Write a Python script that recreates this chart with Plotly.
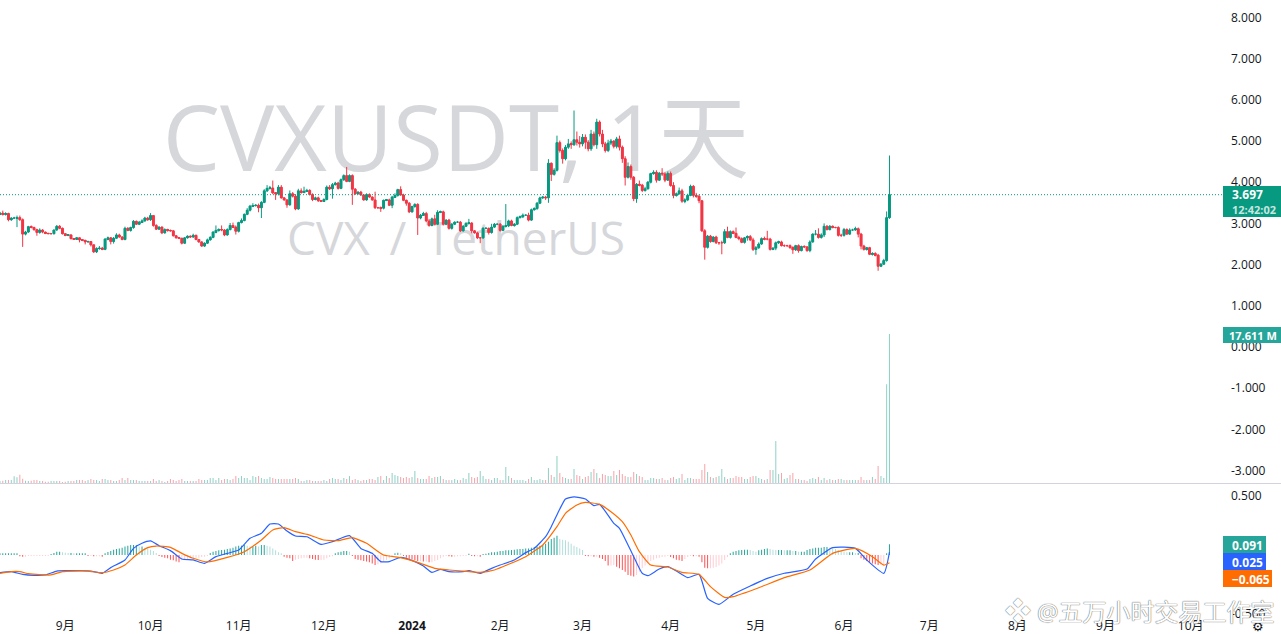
import pandas as pd
import plotly.graph_objects as go

W, H = 1281, 634
PLOT_W, PLOT_H = 1222, 617

first_day = "2023-08-09"

closes = [
    3.25,3.22,3.24,3.09,3.13,3.13,3.14,3.09,2.74,2.79,
    2.92,2.90,2.85,2.78,2.84,2.79,2.76,2.75,2.75,2.84,
    2.93,2.88,2.75,2.71,2.72,2.63,2.62,2.65,2.60,2.59,
    2.55,2.56,2.48,2.31,2.39,2.40,2.37,2.62,2.65,2.56,
    2.64,2.72,2.67,2.61,2.88,2.83,2.90,3.05,2.98,3.03,
    3.06,3.13,3.09,3.19,2.95,2.86,2.91,2.77,2.85,2.83,
    2.82,2.70,2.65,2.64,2.52,2.65,2.69,2.67,2.71,2.61,
    2.55,2.45,2.52,2.60,2.66,2.79,2.83,2.85,2.84,2.72,
    2.85,2.95,2.91,2.81,3.02,3.07,3.22,3.32,3.42,3.43,
    3.44,3.38,3.51,3.79,3.85,3.86,3.74,3.72,3.88,3.62,
    3.57,3.45,3.72,3.66,3.35,3.79,3.75,3.78,3.80,3.70,
    3.58,3.62,3.55,3.54,3.58,3.88,3.84,3.94,3.98,3.85,
    4.06,4.16,4.02,4.16,3.83,3.72,3.76,3.69,3.57,3.70,
    3.64,3.57,3.38,3.38,3.37,3.56,3.57,3.44,3.64,3.68,
    3.82,3.69,3.56,3.49,3.28,3.41,3.46,3.13,3.20,3.24,
    3.06,2.95,3.11,2.98,3.27,3.28,2.98,3.08,2.88,2.98,
    3.03,3.03,2.82,2.93,3.00,3.01,2.82,2.77,2.65,2.65,
    2.88,2.88,2.78,2.91,2.98,2.98,2.83,2.93,2.94,3.06,
    2.95,2.98,3.14,3.16,3.20,3.20,3.08,3.33,3.36,3.49,
    3.62,3.64,3.62,4.46,4.19,4.29,4.96,4.77,4.57,4.85,
    4.93,4.91,5.03,4.97,4.93,5.09,4.97,4.81,5.17,4.91,
    5.46,5.17,4.93,4.77,4.95,5.00,4.87,5.05,4.85,4.57,
    4.12,4.38,4.12,3.60,3.95,3.93,3.80,3.84,4.00,4.21,
    4.24,4.05,4.22,4.20,4.05,4.21,3.92,3.68,3.72,3.79,
    3.54,3.57,3.68,3.90,3.68,3.66,3.55,2.82,2.42,2.69,
    2.56,2.67,2.53,2.53,2.53,2.80,2.66,2.80,2.76,2.66,
    2.63,2.54,2.65,2.68,2.60,2.37,2.41,2.50,2.63,2.62,
    2.62,2.37,2.40,2.53,2.55,2.46,2.46,2.46,2.42,2.36,
    2.46,2.34,2.44,2.43,2.34,2.55,2.74,2.74,2.66,2.72,
    2.93,2.85,2.93,2.90,2.90,2.71,2.71,2.85,2.74,2.84,
    2.84,2.87,2.74,2.45,2.37,2.41,2.25,2.27,2.23,1.96,
    2.01,2.10,3.14,3.697,
]
first_open = 3.22

upper_wicks = [
    .03,.06,.03,.02,.02,.03,.05,.05,.03,.03,
    .02,.03,.02,.02,.04,.02,.01,.01,.01,.01,
    .03,.03,.02,.01,.01,.02,.01,.02,.01,.02,
    .01,.02,.01,.01,.03,.05,.03,.02,.03,.02,
    .03,.04,.03,.02,.04,.03,.02,.03,.02,.03,
    .04,.03,.03,.06,.01,.03,.02,.02,.03,.02,
    .02,.02,.01,.02,.01,.02,.02,.02,.04,.02,
    .01,.02,.02,.03,.03,.02,.12,.03,.10,.02,
    .03,.06,.07,.04,.02,.05,.02,.05,.03,.06,
    .03,.04,.03,.04,.08,.05,.18,.02,.05,.05,
    .02,.02,.08,.04,.05,.05,.06,.11,.04,.03,
    .03,.03,.03,.02,.03,.04,.05,.04,.03,.03,
    .03,.03,.21,.03,.03,.03,.02,.03,.02,.03,
    .03,.02,.20,.02,.03,.02,.02,.03,.03,.05,
    .02,.08,.03,.02,.03,.02,.03,.03,.03,.04,
    .04,.05,.03,.10,.05,.03,.03,.02,.03,.03,
    .02,.03,.03,.03,.03,.10,.02,.02,.03,.02,
    .03,.03,.02,.08,.03,.02,.03,.03,.53,.03,
    .03,.03,.03,.03,.04,.02,.06,.03,.03,.03,
    .03,.02,.03,.10,.02,.05,.17,.05,.05,.05,
    .12,.06,.71,.20,.15,.08,.07,.05,.10,.06,
    .08,.04,.10,.05,.08,.05,.02,.05,.08,.04,
    .06,.10,.05,.03,.03,.09,.03,.05,.03,.02,
    .05,.05,.03,.12,.04,.05,.05,.08,.03,.08,
    .05,.04,.04,.04,.03,.06,.04,.02,.04,.03,
    .03,.02,.03,.02,.05,.06,.12,.03,.03,.14,
    .04,.03,.02,.03,.04,.05,.04,.04,.03,.05,
    .20,.03,.02,.03,.03,.03,.03,.02,.03,.02,
    .02,.03,.02,.03,.02,.04,.02,.10,.14,.04,
    .07,.03,.03,.02,.02,.03,.04,.04,.03,.04,
    .03,.05,.03,.03,.03,.02,.02,.03,.03,.03,
    .03,.04,.15,.95,
]
lower_wicks = [
    .02,.03,.03,.04,.03,.02,.22,.03,.31,.03,
    .02,.02,.03,.08,.03,.03,.02,.01,.01,.02,
    .02,.02,.02,.02,.02,.02,.02,.02,.06,.02,
    .06,.02,.04,.03,.03,.03,.02,.02,.03,.07,
    .05,.02,.02,.02,.02,.02,.03,.03,.02,.02,
    .02,.02,.03,.03,.03,.02,.02,.03,.02,.03,
    .02,.02,.02,.02,.03,.02,.02,.02,.02,.02,
    .02,.02,.02,.02,.02,.02,.03,.03,.03,.03,
    .02,.02,.02,.08,.03,.02,.02,.02,.03,.02,
    .02,.11,.25,.02,.03,.03,.03,.15,.04,.02,
    .02,.07,.02,.03,.03,.02,.03,.02,.02,.02,
    .04,.02,.03,.02,.02,.02,.03,.24,.02,.03,
    .02,.03,.02,.02,.38,.03,.02,.02,.02,.02,
    .02,.02,.03,.02,.09,.03,.02,.02,.07,.02,
    .03,.02,.02,.06,.03,.02,.03,.41,.03,.02,
    .03,.03,.02,.03,.02,.02,.03,.02,.03,.03,
    .02,.02,.03,.02,.02,.03,.06,.02,.03,.13,
    .03,.02,.05,.03,.02,.02,.03,.02,.03,.03,
    .02,.03,.02,.02,.03,.02,.03,.02,.02,.03,
    .02,.03,.05,.12,.16,.03,.03,.05,.12,.04,
    .04,.10,.03,.08,.09,.06,.16,.06,.05,.04,
    .10,.06,.08,.05,.04,.05,.05,.05,.08,.10,
    .20,.03,.06,.06,.10,.03,.04,.03,.02,.03,
    .03,.06,.02,.05,.05,.02,.03,.07,.03,.02,
    .04,.05,.03,.02,.05,.04,.06,.03,.30,.03,
    .03,.02,.03,.05,.28,.03,.02,.03,.02,.02,
    .04,.02,.03,.07,.03,.04,.13,.03,.02,.03,
    .03,.03,.02,.05,.03,.02,.03,.03,.04,.10,
    .03,.05,.02,.03,.03,.04,.02,.03,.03,.03,
    .05,.02,.02,.02,.02,.03,.04,.03,.02,.02,
    .02,.02,.08,.08,.03,.03,.02,.03,.03,.11,
    .02,.02,.03,.03,
]

# volume, millions
volumes = [
    .24,.28,.35,.35,.35,.79,.67,.98,.51,.28,
    .24,.28,.35,.35,.24,.24,.16,.16,.24,.24,
    .24,.24,.12,.16,.24,.24,.24,.35,.35,.35,
    .24,.35,.47,.35,.35,.24,.47,.47,.35,.35,
    .24,.24,.35,.59,.35,.59,.35,.35,.35,.24,
    .24,.24,.24,.24,.47,.24,.35,.24,.12,.24,
    .47,.35,.24,.35,.47,.24,.24,.24,.24,.24,
    .47,.35,.35,.35,.59,.59,.35,.59,.35,.47,
    .47,.35,.47,.82,.59,.82,.59,.59,.35,.82,
    .71,.82,.59,.47,.47,.71,.59,.47,.47,.47,
    .47,.47,.47,.47,.59,.47,.24,.24,.35,.35,
    .24,.24,.24,.24,.35,.24,.47,.59,.47,.47,
    .35,.59,.47,.82,.35,.47,.35,.24,.35,.35,
    .47,.47,.35,.71,.82,.35,.82,.59,1.18,.94,
    .82,.71,.59,.71,.59,.71,1.41,.59,.47,.47,
    .47,.82,.59,.71,.71,.82,.47,.35,.35,
    .35,.47,.35,.35,.59,.47,1.18,.71,.59,.71,
    1.41,.82,.47,.47,.35,.59,.59,.35,.35,1.89,
    .82,.59,.35,.35,.35,.35,.24,.47,.71,.35,
    .35,.47,.35,.35,1.77,.94,.71,3.18,1.18,.71,
    .59,.47,.47,1.65,.94,.82,.47,.71,.82,1.30,
    1.65,1.18,.59,1.06,.94,.82,.82,1.41,.94,1.53,
    1.06,.82,.71,.71,1.30,1.06,.82,.71,.35,.35,
    .59,.59,.47,.47,.59,.35,.35,.59,.71,.47,
    .59,1.06,.35,.59,.59,.47,.47,.47,1.53,2.24,
    1.30,.71,.59,.71,.82,1.65,.71,.47,.59,.59,
    .82,.71,.71,.47,.47,.71,.82,.82,.59,.47,
    .35,.47,1.53,1.53,4.95,1.06,1.18,.47,.59,.94,
    1.18,.47,.47,.35,.35,.24,.47,.59,.47,.71,
    .35,.59,.35,.47,.35,.35,.47,.47,.35,.35,
    .35,.35,.35,.35,.71,.35,.35,.35,.71,.47,
    2.00,.82,.59,11.67,17.611,
]

# histogram, thousandths
hist_milli = [
    14,14,14,14,14,14,14,-11,-14,-14,
    -8,-8,-8,-8,-8,-8,-8,-8,8,17,
    28,28,23,20,17,17,14,14,14,14,
    14,-8,-8,-11,-11,-11,-14,14,25,34,
    45,51,56,62,71,79,85,85,85,71,
    71,62,56,45,34,17,-8,-17,-23,-28,
    -40,-45,-56,-62,-45,-40,-34,-28,-25,-23,
    -23,-17,-14,-8,17,28,34,40,42,45,
    51,56,62,71,79,79,85,79,73,73,
    79,73,85,85,79,71,56,40,23,14,
    -14,-23,-28,-51,-40,-34,-28,-23,-23,-28,
    -34,-40,-42,-42,-40,-28,-17,-11,14,23,
    28,34,34,28,-8,-34,-40,-45,-51,-56,
    -62,-73,-85,-79,-71,-56,-42,-28,-14,14,
    20,14,-8,-23,-34,-40,-45,-51,-51,-56,
    -56,-62,-62,-51,-42,-28,-14,-8,-11,
    -14,-14,-11,-11,-8,-8,11,-8,-11,-11,
    -14,8,11,17,23,23,28,34,34,40,
    40,42,45,48,51,51,56,56,62,68,
    73,79,85,96,113,136,147,164,136,130,
    124,113,96,79,68,56,42,-8,-11,-11,
    -14,-14,-23,-34,-51,-90,-90,-85,-99,-113,
    -127,-141,-169,-175,-183,-169,-141,-113,-90,-71,
    -51,-40,-28,-23,-17,-14,-8,-17,-28,-40,
    -45,-51,-34,-17,-8,-11,-11,-14,-62,-107,
    -113,-113,-107,-102,-90,-71,-42,-17,14,28,
    34,40,42,45,45,42,34,28,40,45,
    51,56,51,45,42,42,42,40,40,40,
    34,34,28,28,28,42,51,56,62,62,
    62,68,68,62,56,51,42,34,28,23,
    23,23,17,17,-28,-40,-51,-62,-73,-79,
    -85,-85,-79,14,91,
]

macd_idx = [
    0,4,8,12,16,20,24,28,32,36,39,44,47,50,53,56,60,64,68,72,76,80,84,88,92,95,98,
    101,104,108,113,117,123,127,131,134,137,141,146,149,152,155,158,163,165,169,173,
    176,181,185,188,192,194,197,199,202,206,209,211,216,218,221,223,226,228,232,235,
    238,242,246,249,253,258,264,270,276,284,287,293,301,305,311,313,
]
macd_vals = [
    -.150,-.141,-.164,-.172,-.169,-.136,-.133,-.133,-.136,-.155,-.107,-.042,.056,.099,.119,.079,
    .037,-.034,-.042,-.071,-.014,.014,.042,.141,.184,.263,.263,.203,.161,.155,.090,.113,.164,
    .056,.014,-.056,-.056,-.020,-.056,-.093,-.147,-.122,-.141,-.141,-.133,-.155,-.113,-.085,
    -.042,.020,.056,.155,.240,.390,.475,.492,.475,.418,.429,.268,.226,.085,-.014,-.155,-.175,
    -.119,-.099,-.136,-.192,-.164,-.367,-.418,-.333,-.263,-.198,-.155,-.119,-.034,.062,.056,
    -.042,-.155,.025,
]
signal_idx = [
    0,4,7,10,14,18,22,26,31,36,40,44,48,52,55,60,64,68,73,80,86,92,96,100,104,109,114,119,
    124,129,135,141,147,153,158,163,169,174,179,185,191,196,199,203,206,211,215,219,222,225,
    229,235,240,246,250,255,258,267,276,285,293,301,307,311,313,
]
signal_vals = [
    -.155,-.141,-.141,-.158,-.167,-.169,-.141,-.136,-.136,-.150,-.127,-.085,0,.062,.076,.065,
    .014,-.028,-.059,-.020,.028,.127,.212,.232,.198,.169,.127,.121,.147,.099,0,-.023,-.062,
    -.113,-.127,-.136,-.147,-.127,-.079,-.014,.085,.240,.353,.424,.446,.429,.367,.282,.169,
    .028,-.085,-.102,-.147,-.164,-.268,-.359,-.353,-.277,-.192,-.127,.014,.056,-.014,-.085,
    -.065,
]

price_ticks = [8, 7, 6, 5, 4, 3, 2, 1, 0, -1, -2, -3]
price_labels = ["8.000","7.000","6.000","5.000","4.000","3.000","2.000","1.000","0.000","-1.000","-2.000","-3.000"]
month_dates = ["2023-09-01","2023-10-01","2023-11-01","2023-12-01","2024-01-01","2024-02-01","2024-03-01",
               "2024-04-01","2024-05-01","2024-06-01","2024-07-01","2024-08-01","2024-09-01","2024-10-01"]
month_labels = ["9月","10月","11月","12月","<b>2024</b>","2月","3月","4月","5月","6月","7月","8月","9月","10月"]

last_price = 3.697
TEXT = "#131722"
UP, DOWN = "#089981", "#F23645"
FONT = "Open Sans, Noto Sans CJK SC, sans-serif"

dates = pd.date_range(first_day, periods=len(closes), freq="D")
opens = [first_open] + closes[:-1]
highs = [max(o, c) + u for o, c, u in zip(opens, closes, upper_wicks)]
lows = [min(o, c) - l for o, c, l in zip(opens, closes, lower_wicks)]
up_day = [c >= o for o, c in zip(opens, closes)]
hist = [v / 1000 for v in hist_milli]

hist_colors = []
for i, v in enumerate(hist):
    prev = hist[i - 1] if i else 0
    if v >= 0:
        hist_colors.append("rgba(38,166,154,0.99)" if v >= prev else "rgba(178,223,219,0.99)")
    else:
        hist_colors.append("rgba(255,205,210,0.99)" if v >= prev else "rgba(255,82,82,0.99)")

def px(x):
    return x / PLOT_W

def py(y):
    return 1 - y / PLOT_H

day_ms = 86400000
pane_split = (PLOT_H - 483) / PLOT_H
macd_top = (PLOT_H - 484) / PLOT_H

fig = go.Figure()
fig.add_bar(x=dates, y=volumes, yaxis="y", xaxis="x", width=0.36 * day_ms,
            marker=dict(color=["rgba(8,153,129,0.45)" if u else "rgba(242,54,69,0.45)" for u in up_day], line_width=0),
            hoverinfo="skip")
# candle bodies, slightly wider than the candlestick trace draws them
fig.add_bar(x=dates, y=[abs(c - o) for o, c in zip(opens, closes)], base=[min(o, c) for o, c in zip(opens, closes)],
            yaxis="y2", xaxis="x", width=0.85 * day_ms,
            marker=dict(color=[UP if u else DOWN for u in up_day], line_width=0), hoverinfo="skip")
fig.add_candlestick(x=dates, open=opens, high=highs, low=lows, close=closes, yaxis="y2", xaxis="x",
                    increasing=dict(line=dict(color=UP, width=1), fillcolor=UP),
                    decreasing=dict(line=dict(color=DOWN, width=1), fillcolor=DOWN),
                    hoverinfo="skip")
fig.add_bar(x=dates, y=hist, yaxis="y3", xaxis="x", width=0.36 * day_ms,
            marker=dict(color=hist_colors, line_width=0), hoverinfo="skip")
fig.add_scatter(x=[dates[i] for i in macd_idx], y=macd_vals, yaxis="y3", xaxis="x", mode="lines",
                line=dict(color="#2962ff", width=1.2, shape="spline", smoothing=0.5), hoverinfo="skip")
fig.add_scatter(x=[dates[i] for i in signal_idx], y=signal_vals, yaxis="y3", xaxis="x", mode="lines",
                line=dict(color="#ff6d00", width=1.2, shape="spline", smoothing=0.5), hoverinfo="skip")

sep1 = pd.Timestamp("2023-09-01")
x_start = sep1 - pd.Timedelta(days=65.3 / 2.842)
x_end = sep1 + pd.Timedelta(days=(PLOT_W - 65.3) / 2.842)

shapes = [
    # watermarks behind the candles
    dict(type="rect", xref="paper", yref="paper", layer="below", x0=px(96), x1=px(816), y0=py(192), y1=py(92),
         line_width=0, fillcolor="rgba(0,0,0,0)",
         label=dict(text="CVXUSDT, 1天", textposition="middle center",
                    font=dict(size=91, color="#d6d7db", family=FONT))),
    dict(type="rect", xref="paper", yref="paper", layer="below", x0=px(200), x1=px(712), y0=py(270), y1=py(210),
         line_width=0, fillcolor="rgba(0,0,0,0)",
         label=dict(text="CVX\u2009 / \u2009TetherUS", textposition="middle center",
                    font=dict(size=46, color="#d6d7db", family=FONT))),
    # last price line
    dict(type="line", xref="paper", yref="y2", x0=0, x1=1, y0=last_price, y1=last_price,
         line=dict(color=UP, width=1, dash="1px,2px")),
    # pane separator
    dict(type="line", xref="paper", yref="paper", x0=0, x1=W / PLOT_W, y0=py(483.5), y1=py(483.5),
         line=dict(color="#d1d4dc", width=1)),
    # price scale labels
    dict(type="rect", xref="paper", yref="paper", x0=px(1223), x1=px(1281), y0=py(217), y1=py(186), line_width=0, fillcolor=UP),
    dict(type="rect", xref="paper", yref="paper", x0=px(1223), x1=px(1281), y0=py(343), y1=py(327), line_width=0, fillcolor="#26a69a"),
    dict(type="rect", xref="paper", yref="paper", x0=px(1223), x1=px(1266), y0=py(553), y1=py(536), line_width=0, fillcolor="#26a69a"),
    dict(type="rect", xref="paper", yref="paper", x0=px(1223), x1=px(1266), y0=py(570), y1=py(553), line_width=0, fillcolor="#2962ff"),
    dict(type="rect", xref="paper", yref="paper", x0=px(1223), x1=px(1272), y0=py(587), y1=py(570), line_width=0, fillcolor="#ff6d00"),
]

def label(text, x, y, color="white", size=12, anchor="left", shadow=None):
    font = dict(size=size, color=color, family=FONT)
    if shadow:
        font["shadow"] = shadow
    return dict(xref="paper", yref="paper", x=px(x), y=py(y), text=text, showarrow=False,
                xanchor=anchor, yanchor="middle", font=font, borderpad=0)

annotations = [
    label("<b>3.697</b>", 1231, 194),
    label("<b>12:42:02</b>", 1231, 209, color="#c8e6e0", size=11),
    label("<b>17.611 M</b>", 1228, 335, size=11),
    label("<b>0.091</b>", 1231, 545),
    label("<b>0.025</b>", 1231, 562),
    label("<b>\u22120.065</b>", 1231, 579),
    label("⚙", 1258, 626, color=TEXT, size=13, anchor="center"),
    label("❖", 1018, 610, color="white", size=26, anchor="center", shadow="0 0 1px #666, 0 0 1px #666"),
    label("@五万小时交易工作室", 1036, 611, color="white", size=24, shadow="0 0 1px #666, 0 0 1px #666"),
]

fig.update_layout(
    width=W, height=H, margin=dict(l=0, r=W - PLOT_W, t=0, b=H - PLOT_H),
    paper_bgcolor="white", plot_bgcolor="white", showlegend=False, hovermode=False,
    barmode="overlay", boxgap=0.08, font=dict(family=FONT, size=12, color=TEXT),
    shapes=shapes, annotations=annotations,
    xaxis=dict(range=[x_start, x_end], tickvals=month_dates, ticktext=month_labels, tickangle=0,
               showgrid=False, zeroline=False, showline=False, ticks="", rangeslider=dict(visible=False),
               anchor="y3", tickfont=dict(size=12, color=TEXT)),
    yaxis=dict(domain=[pane_split, 1], range=[0, 17.611 * 483 / 149], visible=False, fixedrange=True),
    yaxis2=dict(domain=[pane_split, 1], overlaying="y", side="right", anchor="x",
                range=[-136 / 41.2, 347 / 41.2], tickvals=price_ticks, ticktext=price_labels,
                showgrid=False, zeroline=False, showline=False, ticks="", ticklabelstandoff=8,
                tickfont=dict(size=12, color=TEXT)),
    yaxis3=dict(domain=[0, macd_top], side="right", anchor="x",
                range=[-62 / 118, 71 / 118], tickvals=[0.5, -0.5], ticktext=["0.500", "-0.500"],
                showgrid=False, zeroline=False, showline=False, ticks="", ticklabelstandoff=8,
                tickfont=dict(size=12, color=TEXT)),
)

fig.write_html("out.html", config=dict(displayModeBar=False),
               post_script="document.body.style.margin='0';document.body.style.overflow='hidden';")
